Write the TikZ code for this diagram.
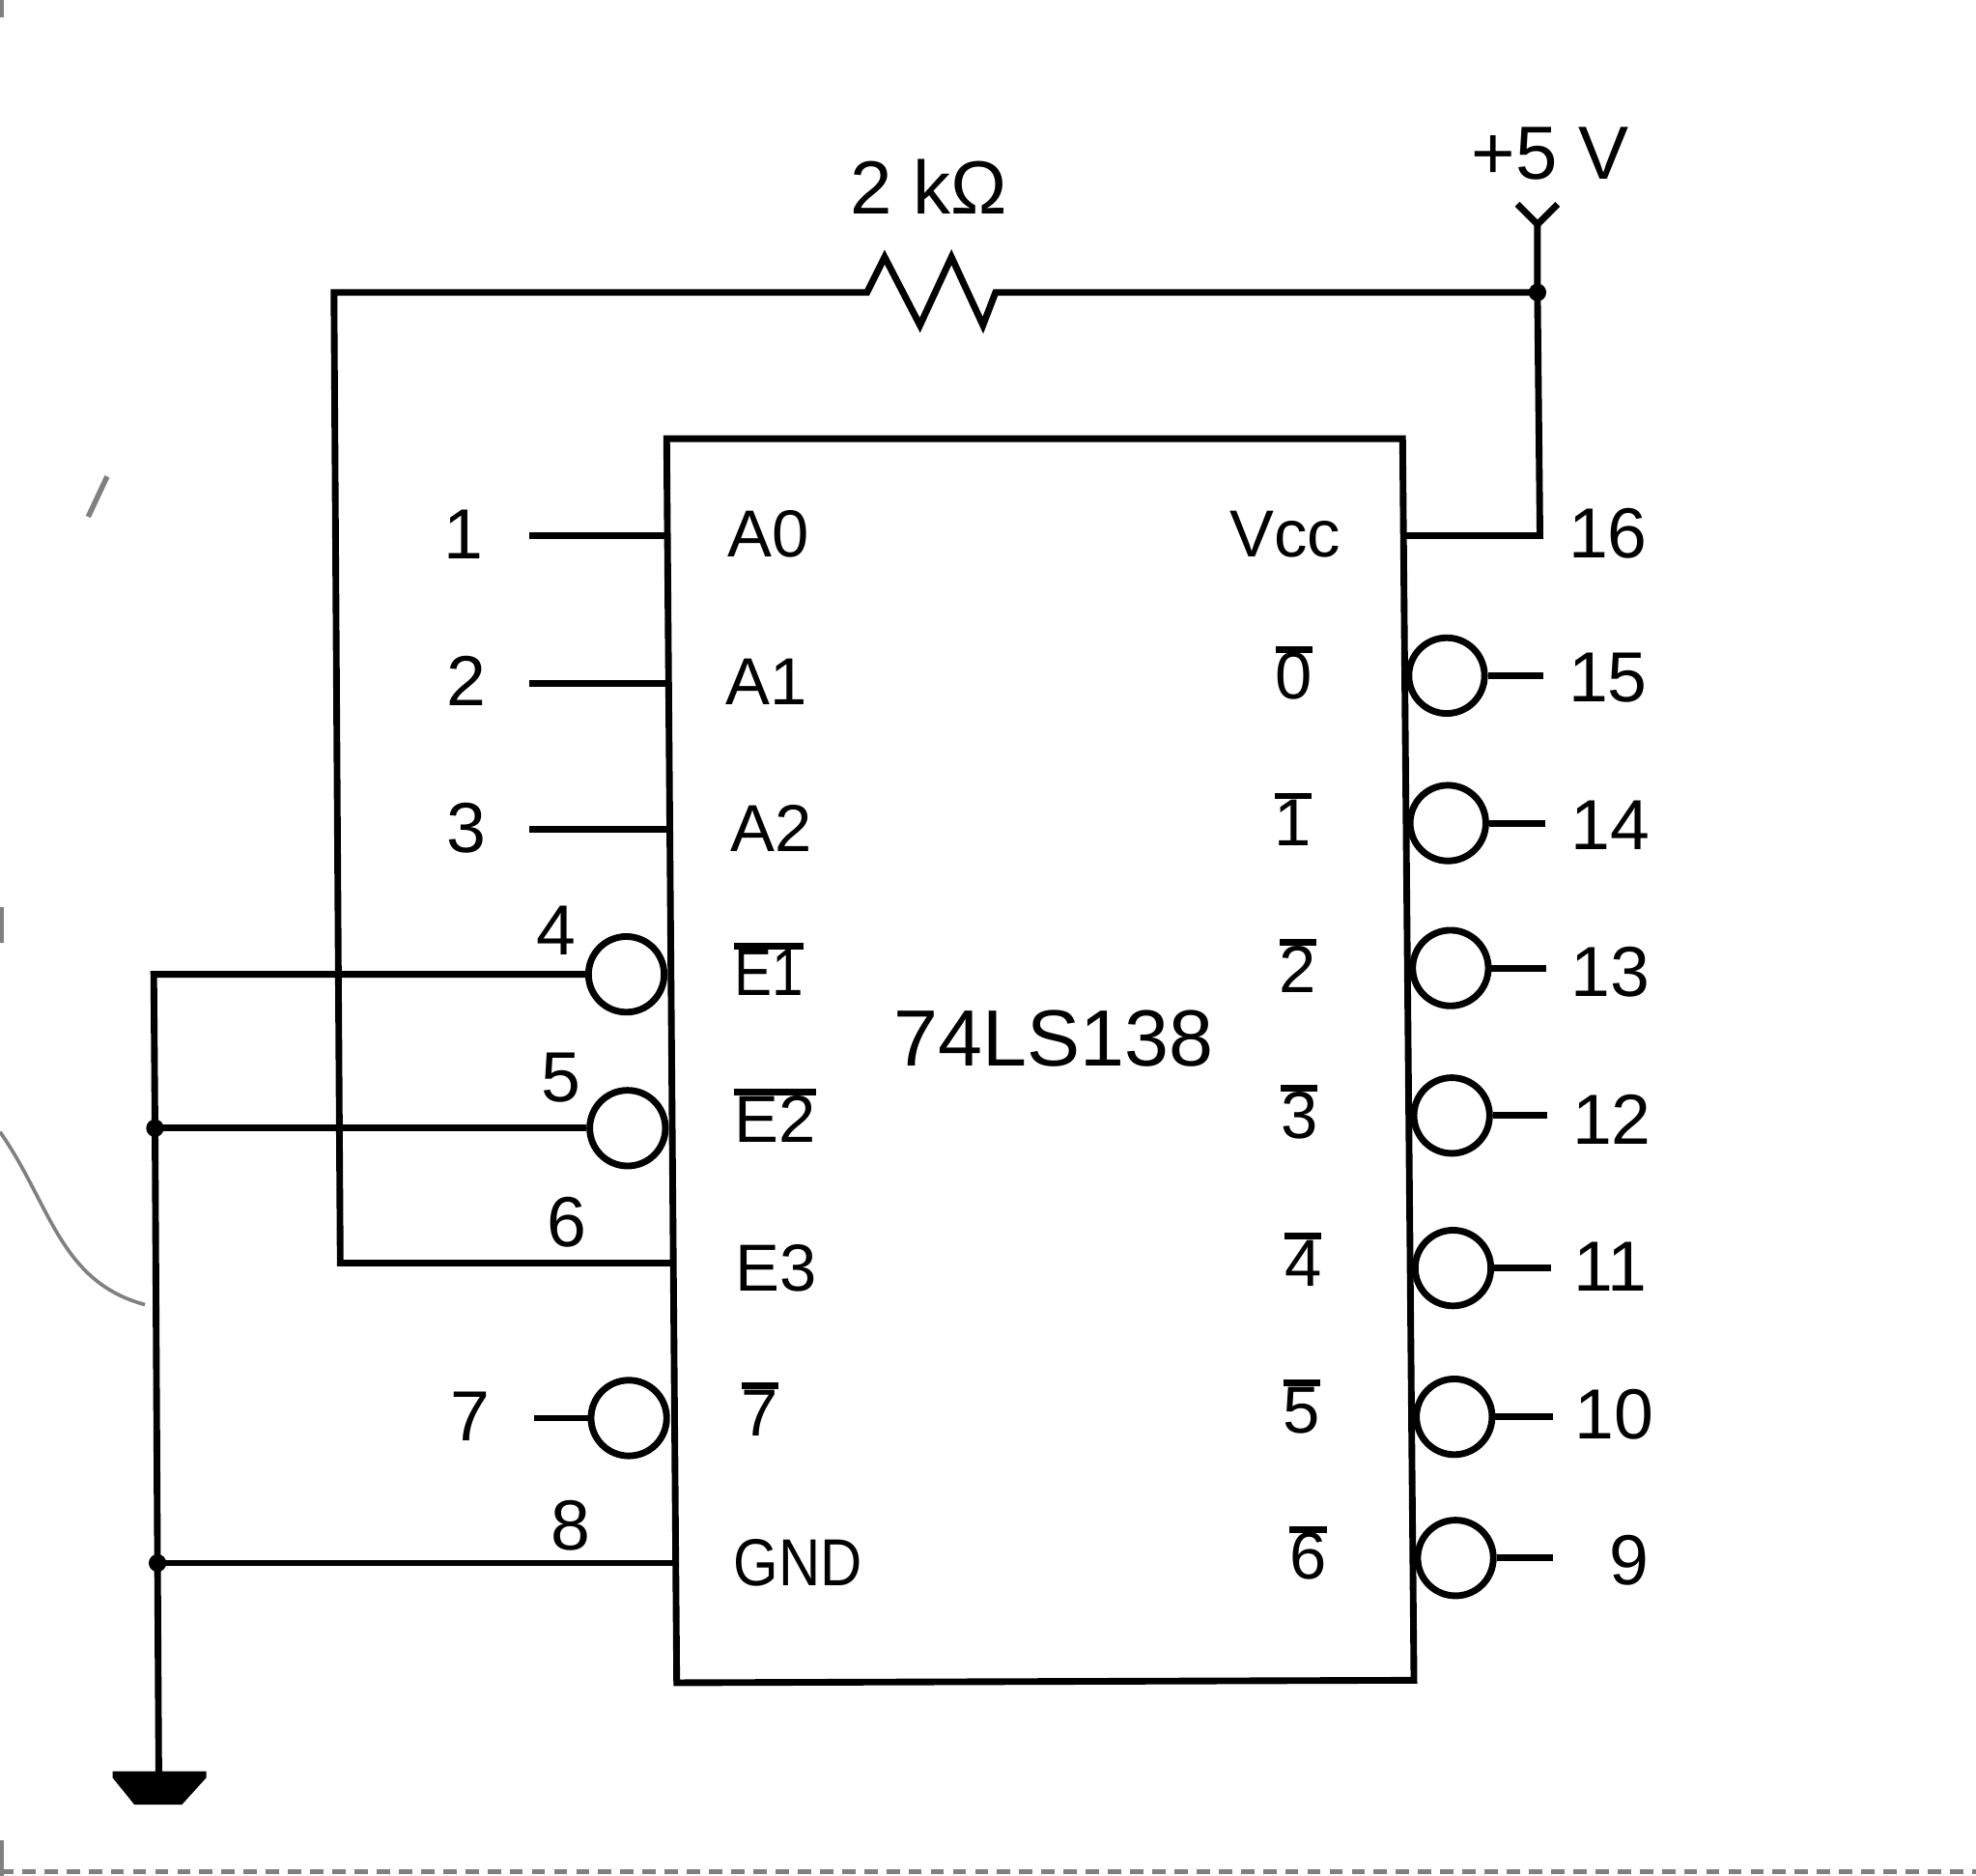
\documentclass[tikz,border=0pt]{standalone}
\usepackage{amsmath}
\usepackage{calc}
\usepackage{fontspec}
\setmainfont{Liberation Sans}
\usepackage{tikz}
\usetikzlibrary{arrows,shapes,positioning}
\newlength{\barwd}
\newcommand{\barred}[1]{\settowidth{\barwd}{#1}\rlap{\rule[0.7em]{\barwd}{0.1em}}#1}
\tikzset{
  wire/.style={line width=1.5pt, line join=miter},
  bubble/.style={circle, draw, line width=1.5pt, inner sep=0pt, minimum size=0.6cm},
  dot/.style={circle, fill, inner sep=0pt, minimum size=0.14cm},
  pinnum/.style={inner sep=0pt, font=\fontsize{16}{18}\selectfont},
  chiplabel/.style={inner sep=0pt, font=\fontsize{15}{18}\selectfont},
  scratch/.style={gray, line width=0.8pt}
}

\begin{document}
\begin{tikzpicture}[x=0.01cm, y=-0.01cm]
\useasboundingbox (0,0) rectangle (1568,1488);

% chip outline
\coordinate (chipNW) at (529,348);
\coordinate (chipNE) at (1113,348);
\coordinate (chipSE) at (1122,1333);
\coordinate (chipSW) at (537,1335);
\draw [wire] (chipNW) -- (chipNE) -- (chipSE) -- (chipSW) -- cycle;

\node [font=\fontsize{18}{20}\selectfont, inner sep=0pt] (chipName) at (836,824) {74LS138};

% inside, left column
\node [chiplabel] (lblAzero) at (610,424) {A0};
\node [chiplabel] (lblAone) at (608,541) {A1};
\node [chiplabel] (lblAtwo) at (612,657) {A2};
\node [chiplabel] (lblEone) at (610,769) {\barred{\scalebox{0.85}[1]{E1}}};
\node [chiplabel] (lblEtwo) at (615,885) {\barred{E2}};
\node [chiplabel] (lblEthree) at (616,1006) {E3};
\node [chiplabel] (lblSeven) at (603,1118) {\barred{7}};
\node [chiplabel] (lblGnd) at (633,1240) {\scalebox{0.87}[1]{GND}};

% inside, right column
\node [chiplabel] (lblVcc) at (1020,424) {Vcc};
\node [chiplabel] (lblQzero) at (1027,534) {\barred{0}};
\node [chiplabel] (lblQone) at (1026,650) {\barred{1}};
\node [chiplabel] (lblQtwo) at (1030,766) {\barred{2}};
\node [chiplabel] (lblQthree) at (1031,882) {\barred{3}};
\node [chiplabel] (lblQfour) at (1034,999) {\barred{4}};
\node [chiplabel] (lblQfive) at (1033,1116) {\barred{5}};
\node [chiplabel] (lblQsix) at (1038,1232) {\barred{6}};

% pin numbers
\node [pinnum] (numOne) at (368,424) {1};
\node [pinnum] (numTwo) at (370,540) {2};
\node [pinnum] (numThree) at (370,657) {3};
\node [pinnum] (numFour) at (441,738) {4};
\node [pinnum] (numFive) at (445,855) {5};
\node [pinnum] (numSix) at (450,970) {6};
\node [pinnum] (numSeven) at (373,1124) {7};
\node [pinnum] (numEight) at (453,1210) {8};
\node [pinnum] (numSixteen) at (1276,423) {16};
\node [pinnum] (numFifteen) at (1276,538) {15};
\node [pinnum] (numFourteen) at (1278,655) {14};
\node [pinnum] (numThirteen) at (1278,771) {13};
\node [pinnum] (numTwelve) at (1279,888) {12};
\node [pinnum] (numEleven) at (1278,1005) {11};
\node [pinnum] (numTen) at (1281,1122) {10};
\node [pinnum] (numNine) at (1293,1238) {9};

% plain address pins
\coordinate (pinAzero) at (420,425);
\coordinate (pinAone) at (420,542);
\coordinate (pinAtwo) at (420,658);
\coordinate (boxAzero) at (531,425);
\coordinate (boxAone) at (532,542);
\coordinate (boxAtwo) at (533,658);
\draw [wire] (pinAzero) -- (boxAzero);
\draw [wire] (pinAone) -- (boxAone);
\draw [wire] (pinAtwo) -- (boxAtwo);

% bubbles on the left
\node [bubble] (bubEone) at (497,773) {};
\node [bubble] (bubEtwo) at (498,895) {};
\node [bubble] (bubSeven) at (499,1125) {};
\coordinate (pinSeven) at (424,1125);
\draw [wire] (pinSeven) -- (bubSeven);

% bubbles on the right
\node [bubble] (bubQzero) at (1148,536) {};
\node [bubble] (bubQone) at (1149,653) {};
\node [bubble] (bubQtwo) at (1151,768) {};
\node [bubble] (bubQthree) at (1152,885) {};
\node [bubble] (bubQfour) at (1153,1006) {};
\node [bubble] (bubQfive) at (1154,1124) {};
\node [bubble] (bubQsix) at (1155,1236) {};
\coordinate (pinQzero) at (1225,536);
\coordinate (pinQone) at (1226,653);
\coordinate (pinQtwo) at (1227,768);
\coordinate (pinQthree) at (1228,885);
\coordinate (pinQfour) at (1231,1006);
\coordinate (pinQfive) at (1232,1124);
\coordinate (pinQsix) at (1232,1236);
\draw [wire] (bubQzero) -- (pinQzero);
\draw [wire] (bubQone) -- (pinQone);
\draw [wire] (bubQtwo) -- (pinQtwo);
\draw [wire] (bubQthree) -- (pinQthree);
\draw [wire] (bubQfour) -- (pinQfour);
\draw [wire] (bubQfive) -- (pinQfive);
\draw [wire] (bubQsix) -- (pinQsix);

% supply and pull-up
\node [inner sep=0pt, font=\fontsize{17}{20}\selectfont] (supply) at (1230,122) {+5 V};
\node [inner sep=0pt, font=\fontsize{17}{20}\selectfont] (resValue) at (737,148) {2 kΩ};
\node [dot] (supplyDot) at (1220,232) {};
\coordinate (forkTip) at (1220,178);
\coordinate (boxVcc) at (1115,425);
\coordinate (cornerVcc) at (1222,425);
\coordinate (topLeft) at (265,232);
\coordinate (boxEthree) at (534,1002);
\draw [wire] (1204,162) -- (forkTip) -- (1236,162);
\draw [wire] (forkTip) -- (supplyDot.center) -- (cornerVcc) -- (boxVcc);
\draw [wire] (supplyDot.center) -- (790,232) -- (780,258) -- (755,204) -- (730,258) -- (702,204) -- (688,232) -- (topLeft) -- (270,1002) -- (boxEthree);

% ground bus
\node [dot] (busEtwo) at (123,895) {};
\node [dot] (busGnd) at (125,1240) {};
\coordinate (busTop) at (122,773);
\coordinate (busEnd) at (126,1408);
\coordinate (boxGnd) at (535,1240);
\draw [wire] (bubEone) -- (busTop) -- (busEtwo.center) -- (busGnd.center) -- (busEnd);
\draw [wire] (bubEtwo) -- (busEtwo.center);
\draw [wire] (busGnd.center) -- (boxGnd);
\draw [fill] (90,1406) -- (163,1406) -- (163,1410) -- (144,1431) -- (107,1431) -- (90,1410) -- cycle;

% marks on the scan
\draw [scratch] (0,898) to [out=-55, in=165] (115,1035);
\draw [scratch, line width=1.2pt] (85,378) -- (70,410);
\draw [gray, densely dashed, line width=1pt] (0,1485) -- (1568,1485);
\draw [gray, line width=1.2pt] (1,0) -- (1,14);
\draw [gray, line width=1.2pt] (1,720) -- (1,748);
\draw [gray, line width=1.2pt] (1,1460) -- (1,1488);
\end{tikzpicture}
\end{document}
